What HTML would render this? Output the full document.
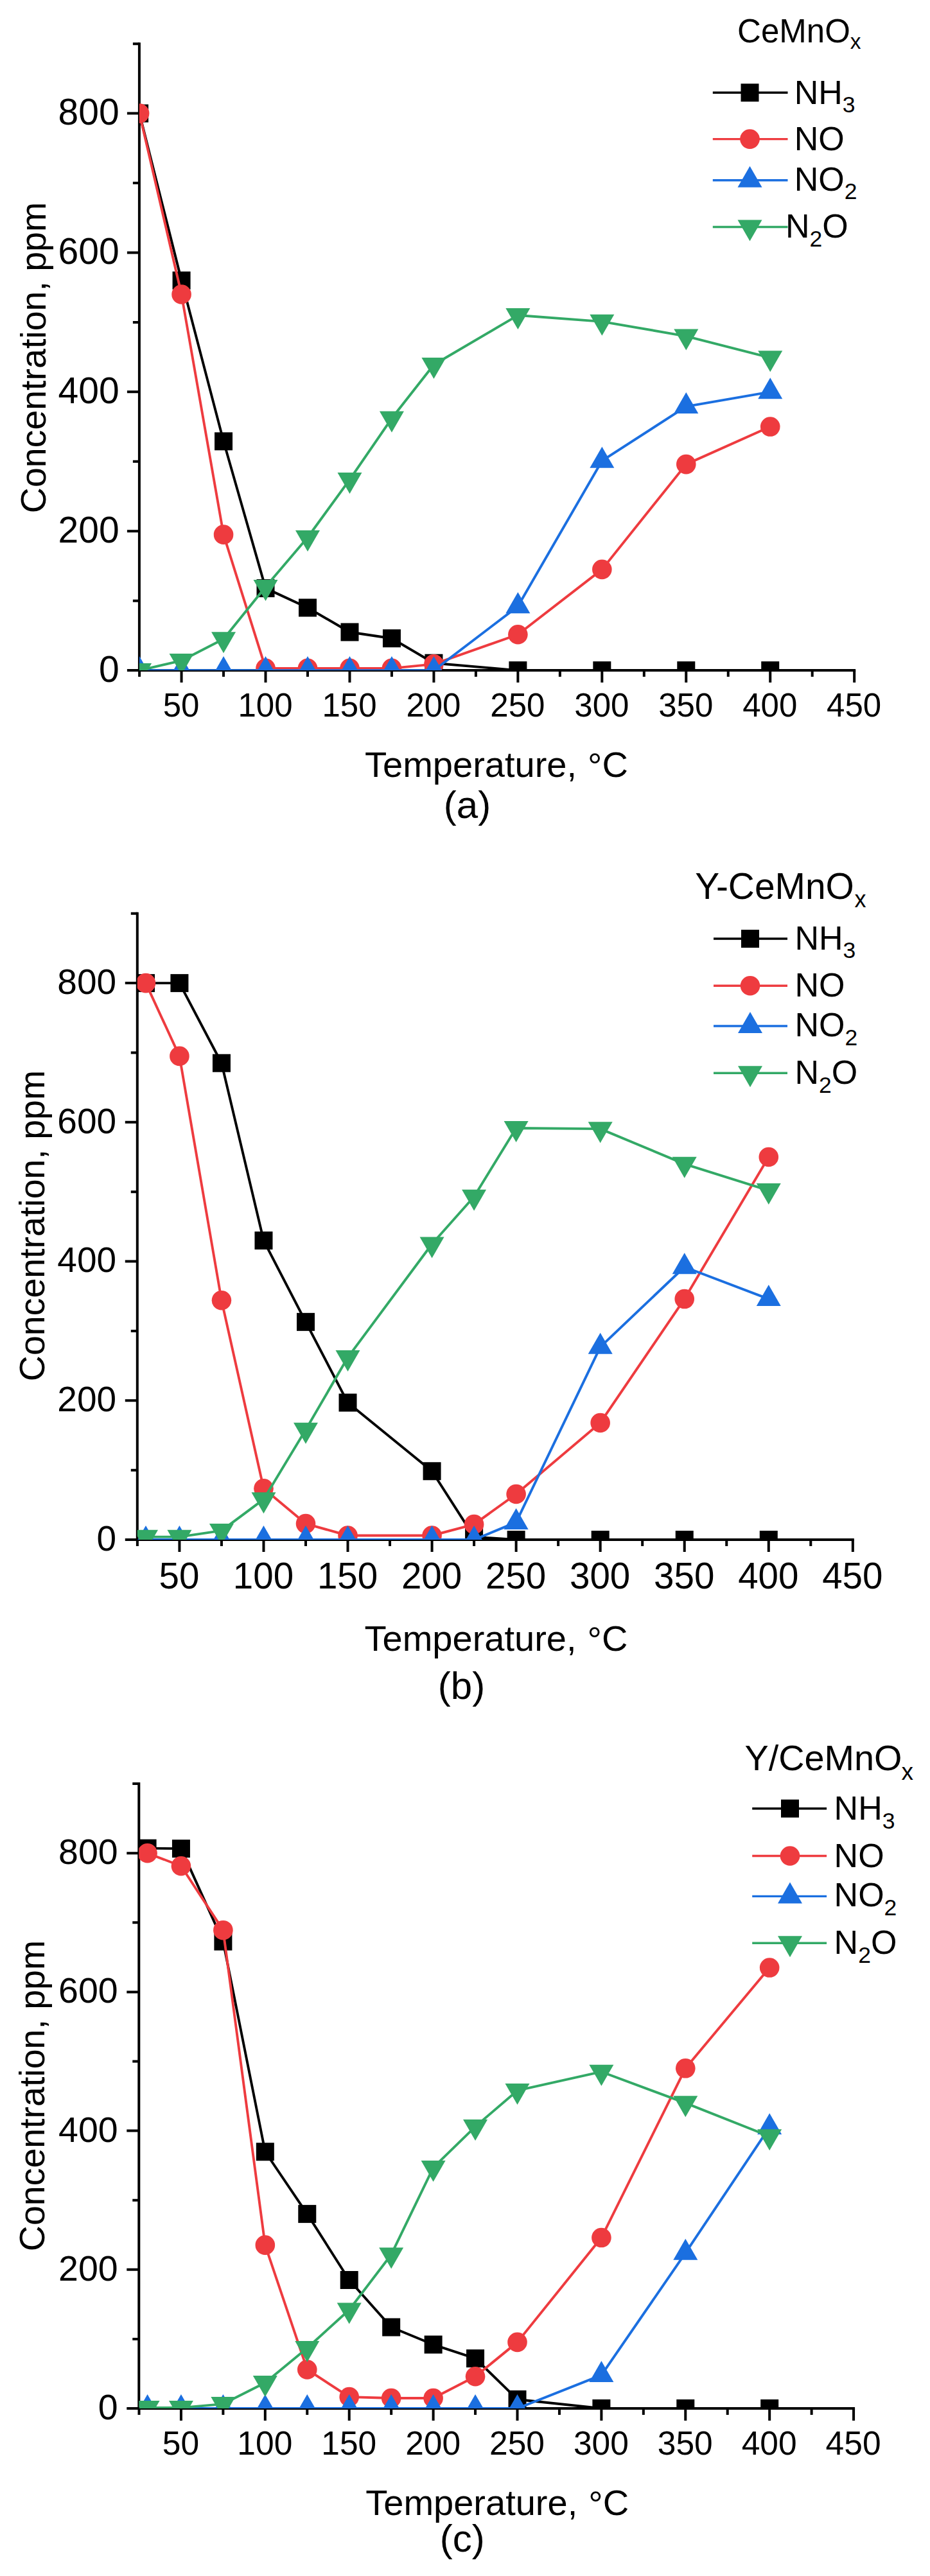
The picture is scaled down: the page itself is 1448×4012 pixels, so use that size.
<!DOCTYPE html>
<html><head><meta charset="utf-8"><title>Concentration vs Temperature</title>
<style>html,body{margin:0;padding:0;background:#fff;}svg{display:block;}</style></head><body>
<svg width="1448" height="4012" viewBox="0 0 1448 4012" font-family="'Liberation Sans', Arial, Helvetica, sans-serif">
<rect width="1448" height="4012" fill="#fff"/>
<clipPath id="clipa"><rect x="216.9" y="7" width="1153.27" height="1037.1"/></clipPath>
<path d="M216.9 68.14V1044.1H1330.17" fill="none" stroke="#000" stroke-width="4.0" stroke-linecap="square"/><path d="M216.9 1044.1H197.9M216.9 935.66H206.9M216.9 827.22H197.9M216.9 718.78H206.9M216.9 610.34H197.9M216.9 501.9H206.9M216.9 393.46H197.9M216.9 285.02H206.9M216.9 176.58H197.9M216.9 68.14H206.9M217.1 1044.1V1054.1M282.57 1044.1V1063.1M348.05 1044.1V1054.1M413.52 1044.1V1063.1M479 1044.1V1054.1M544.48 1044.1V1063.1M609.95 1044.1V1054.1M675.43 1044.1V1063.1M740.9 1044.1V1054.1M806.38 1044.1V1063.1M871.85 1044.1V1054.1M937.33 1044.1V1063.1M1002.8 1044.1V1054.1M1068.28 1044.1V1063.1M1133.75 1044.1V1054.1M1199.23 1044.1V1063.1M1264.7 1044.1V1054.1M1330.17 1044.1V1063.1" fill="none" stroke="#000" stroke-width="4.0"/>
<g clip-path="url(#clipa)"><polyline points="217.1,176.58 282.57,436.84 348.05,687.33 413.52,916.14 479,946.5 544.48,984.46 609.95,994.22 675.43,1032.71 806.38,1044.1 937.33,1044.1 1068.28,1044.1 1199.23,1044.1" fill="none" stroke="#000000" stroke-width="3.9" stroke-linejoin="round"/><rect x="203.1" y="162.58" width="28" height="28" fill="#000000"/><rect x="268.57" y="422.84" width="28" height="28" fill="#000000"/><rect x="334.05" y="673.33" width="28" height="28" fill="#000000"/><rect x="399.52" y="902.14" width="28" height="28" fill="#000000"/><rect x="465" y="932.5" width="28" height="28" fill="#000000"/><rect x="530.48" y="970.46" width="28" height="28" fill="#000000"/><rect x="595.95" y="980.22" width="28" height="28" fill="#000000"/><rect x="661.43" y="1018.71" width="28" height="28" fill="#000000"/><rect x="792.38" y="1030.1" width="28" height="28" fill="#000000"/><rect x="923.33" y="1030.1" width="28" height="28" fill="#000000"/><rect x="1054.28" y="1030.1" width="28" height="28" fill="#000000"/><rect x="1185.23" y="1030.1" width="28" height="28" fill="#000000"/><polyline points="217.1,176.58 282.57,458.52 348.05,832.64 413.52,1040.85 479,1040.85 544.48,1040.85 609.95,1040.85 675.43,1034.34 806.38,988.25 937.33,886.86 1068.28,723.12 1199.23,664.56" fill="none" stroke="#ee3b3f" stroke-width="3.9" stroke-linejoin="round"/><circle cx="217.1" cy="176.58" r="15.3" fill="#ee3b3f"/><circle cx="282.57" cy="458.52" r="15.3" fill="#ee3b3f"/><circle cx="348.05" cy="832.64" r="15.3" fill="#ee3b3f"/><circle cx="413.52" cy="1040.85" r="15.3" fill="#ee3b3f"/><circle cx="479" cy="1040.85" r="15.3" fill="#ee3b3f"/><circle cx="544.48" cy="1040.85" r="15.3" fill="#ee3b3f"/><circle cx="609.95" cy="1040.85" r="15.3" fill="#ee3b3f"/><circle cx="675.43" cy="1034.34" r="15.3" fill="#ee3b3f"/><circle cx="806.38" cy="988.25" r="15.3" fill="#ee3b3f"/><circle cx="937.33" cy="886.86" r="15.3" fill="#ee3b3f"/><circle cx="1068.28" cy="723.12" r="15.3" fill="#ee3b3f"/><circle cx="1199.23" cy="664.56" r="15.3" fill="#ee3b3f"/><polyline points="217.1,1044.1 282.57,1044.1 348.05,1044.1 413.52,1044.1 479,1044.1 544.48,1044.1 609.95,1044.1 675.43,1044.1 806.38,944.34 937.33,717.7 1068.28,633.11 1199.23,610.34" fill="none" stroke="#1b6fe0" stroke-width="3.9" stroke-linejoin="round"/><path d="M217.1 1022.1L236.1 1055.1L198.1 1055.1Z" fill="#1b6fe0"/><path d="M282.57 1022.1L301.57 1055.1L263.57 1055.1Z" fill="#1b6fe0"/><path d="M348.05 1022.1L367.05 1055.1L329.05 1055.1Z" fill="#1b6fe0"/><path d="M413.52 1022.1L432.52 1055.1L394.52 1055.1Z" fill="#1b6fe0"/><path d="M479 1022.1L498 1055.1L460 1055.1Z" fill="#1b6fe0"/><path d="M544.48 1022.1L563.48 1055.1L525.48 1055.1Z" fill="#1b6fe0"/><path d="M609.95 1022.1L628.95 1055.1L590.95 1055.1Z" fill="#1b6fe0"/><path d="M675.43 1022.1L694.43 1055.1L656.43 1055.1Z" fill="#1b6fe0"/><path d="M806.38 922.34L825.38 955.34L787.38 955.34Z" fill="#1b6fe0"/><path d="M937.33 695.7L956.33 728.7L918.33 728.7Z" fill="#1b6fe0"/><path d="M1068.28 611.11L1087.28 644.11L1049.28 644.11Z" fill="#1b6fe0"/><path d="M1199.23 588.34L1218.23 621.34L1180.23 621.34Z" fill="#1b6fe0"/><polyline points="217.1,1044.1 282.57,1028.92 348.05,995.3 413.52,913.97 479,836.98 544.48,746.97 609.95,651.55 675.43,568.05 806.38,491.06 937.33,500.82 1068.28,523.59 1199.23,557.2" fill="none" stroke="#33a966" stroke-width="3.9" stroke-linejoin="round"/><path d="M198.1 1033.1L236.1 1033.1L217.1 1066.1Z" fill="#33a966"/><path d="M263.57 1017.92L301.57 1017.92L282.57 1050.92Z" fill="#33a966"/><path d="M329.05 984.3L367.05 984.3L348.05 1017.3Z" fill="#33a966"/><path d="M394.52 902.97L432.52 902.97L413.52 935.97Z" fill="#33a966"/><path d="M460 825.98L498 825.98L479 858.98Z" fill="#33a966"/><path d="M525.48 735.97L563.48 735.97L544.48 768.97Z" fill="#33a966"/><path d="M590.95 640.55L628.95 640.55L609.95 673.55Z" fill="#33a966"/><path d="M656.43 557.05L694.43 557.05L675.43 590.05Z" fill="#33a966"/><path d="M787.38 480.06L825.38 480.06L806.38 513.06Z" fill="#33a966"/><path d="M918.33 489.82L956.33 489.82L937.33 522.82Z" fill="#33a966"/><path d="M1049.28 512.59L1087.28 512.59L1068.28 545.59Z" fill="#33a966"/><path d="M1180.23 546.2L1218.23 546.2L1199.23 579.2Z" fill="#33a966"/></g>
<text x="185.7" y="1061.5" font-size="57" text-anchor="end">0</text><text x="185.7" y="844.62" font-size="57" text-anchor="end">200</text><text x="185.7" y="627.74" font-size="57" text-anchor="end">400</text><text x="185.7" y="410.86" font-size="57" text-anchor="end">600</text><text x="185.7" y="193.98" font-size="57" text-anchor="end">800</text><text x="282.07" y="1115.6" font-size="51" text-anchor="middle">50</text><text x="413.02" y="1115.6" font-size="51" text-anchor="middle">100</text><text x="543.98" y="1115.6" font-size="51" text-anchor="middle">150</text><text x="674.93" y="1115.6" font-size="51" text-anchor="middle">200</text><text x="805.88" y="1115.6" font-size="51" text-anchor="middle">250</text><text x="936.83" y="1115.6" font-size="51" text-anchor="middle">300</text><text x="1067.78" y="1115.6" font-size="51" text-anchor="middle">350</text><text x="1198.73" y="1115.6" font-size="51" text-anchor="middle">400</text><text x="1329.67" y="1115.6" font-size="51" text-anchor="middle">450</text><text transform="translate(70.5 557) rotate(-90)" font-size="55.5" text-anchor="middle">Concentration, ppm</text><text x="773" y="1210" font-size="56" text-anchor="middle">Temperature, <tspan dx="1.5" dy="2">°</tspan><tspan dy="-2">C</tspan></text><text x="727.5" y="1273.6" font-size="60" text-anchor="middle">(a)</text><text x="1148.1" y="65.5" font-size="51">CeMnO<tspan x="1323.7" y="76.2" font-size="33.5">x</tspan></text><line x1="1109.8" y1="144.3" x2="1226.5" y2="144.3" stroke="#000000" stroke-width="3.4"/><rect x="1153.5" y="130.3" width="28" height="28" fill="#000000"/><text x="1236.7" y="161.6" font-size="52">NH<tspan font-size="35.5" dy="13.6">3</tspan></text><line x1="1109.8" y1="216.6" x2="1226.5" y2="216.6" stroke="#ee3b3f" stroke-width="3.4"/><circle cx="1167.5" cy="216.6" r="15.3" fill="#ee3b3f"/><text x="1236.7" y="233.6" font-size="52">NO</text><line x1="1109.8" y1="280.8" x2="1226.5" y2="280.8" stroke="#1b6fe0" stroke-width="3.4"/><path d="M1167.5 258.8L1186.5 291.8L1148.5 291.8Z" fill="#1b6fe0"/><text x="1236.7" y="296.8" font-size="52">NO<tspan font-size="35.5" dy="13.6">2</tspan></text><line x1="1109.8" y1="353.5" x2="1226.5" y2="353.5" stroke="#33a966" stroke-width="3.4"/><path d="M1148.5 342.5L1186.5 342.5L1167.5 375.5Z" fill="#33a966"/><text x="1223" y="370.3" font-size="52">N<tspan font-size="35.5" dy="13.6">2</tspan><tspan dy="-13.6">O</tspan></text>
<clipPath id="clipb"><rect x="213.8" y="1361.3" width="1154.03" height="1036.7"/></clipPath>
<path d="M213.8 1422.76V2398H1327.83" fill="none" stroke="#000" stroke-width="4.0" stroke-linecap="square"/><path d="M213.8 2398H194.8M213.8 2289.64H203.8M213.8 2181.28H194.8M213.8 2072.92H203.8M213.8 1964.56H194.8M213.8 1856.2H203.8M213.8 1747.84H194.8M213.8 1639.48H203.8M213.8 1531.12H194.8M213.8 1422.76H203.8M213.9 2398V2408M279.43 2398V2417M344.95 2398V2408M410.48 2398V2417M476 2398V2408M541.52 2398V2417M607.05 2398V2408M672.58 2398V2417M738.1 2398V2408M803.62 2398V2417M869.15 2398V2408M934.67 2398V2417M1000.2 2398V2408M1065.73 2398V2417M1131.25 2398V2408M1196.78 2398V2417M1262.3 2398V2408M1327.83 2398V2417" fill="none" stroke="#000" stroke-width="4.0"/>
<g clip-path="url(#clipb)"><polyline points="227,1531.12 279.43,1531.12 344.95,1655.73 410.48,1932.05 476,2058.83 541.52,2184.53 672.58,2291.27 738.1,2393.67 803.62,2398 934.67,2398 1065.73,2398 1196.78,2398" fill="none" stroke="#000000" stroke-width="3.9" stroke-linejoin="round"/><rect x="213" y="1517.12" width="28" height="28" fill="#000000"/><rect x="265.43" y="1517.12" width="28" height="28" fill="#000000"/><rect x="330.95" y="1641.73" width="28" height="28" fill="#000000"/><rect x="396.48" y="1918.05" width="28" height="28" fill="#000000"/><rect x="462" y="2044.83" width="28" height="28" fill="#000000"/><rect x="527.52" y="2170.53" width="28" height="28" fill="#000000"/><rect x="658.58" y="2277.27" width="28" height="28" fill="#000000"/><rect x="724.1" y="2379.67" width="28" height="28" fill="#000000"/><rect x="789.62" y="2384" width="28" height="28" fill="#000000"/><rect x="920.67" y="2384" width="28" height="28" fill="#000000"/><rect x="1051.73" y="2384" width="28" height="28" fill="#000000"/><rect x="1182.78" y="2384" width="28" height="28" fill="#000000"/><polyline points="227,1531.12 279.43,1644.9 344.95,2025.24 410.48,2318.36 476,2373.08 541.52,2391.5 672.58,2391.5 738.1,2374.16 803.62,2327.02 934.67,2215.96 1065.73,2023.07 1196.78,1802.02" fill="none" stroke="#ee3b3f" stroke-width="3.9" stroke-linejoin="round"/><circle cx="227" cy="1531.12" r="15.3" fill="#ee3b3f"/><circle cx="279.43" cy="1644.9" r="15.3" fill="#ee3b3f"/><circle cx="344.95" cy="2025.24" r="15.3" fill="#ee3b3f"/><circle cx="410.48" cy="2318.36" r="15.3" fill="#ee3b3f"/><circle cx="476" cy="2373.08" r="15.3" fill="#ee3b3f"/><circle cx="541.52" cy="2391.5" r="15.3" fill="#ee3b3f"/><circle cx="672.58" cy="2391.5" r="15.3" fill="#ee3b3f"/><circle cx="738.1" cy="2374.16" r="15.3" fill="#ee3b3f"/><circle cx="803.62" cy="2327.02" r="15.3" fill="#ee3b3f"/><circle cx="934.67" cy="2215.96" r="15.3" fill="#ee3b3f"/><circle cx="1065.73" cy="2023.07" r="15.3" fill="#ee3b3f"/><circle cx="1196.78" cy="1802.02" r="15.3" fill="#ee3b3f"/><polyline points="227,2398 279.43,2398 344.95,2398 410.48,2398 476,2398 541.52,2398 672.58,2398 738.1,2398 803.62,2370.91 934.67,2097.84 1065.73,1973.23 1196.78,2023.07" fill="none" stroke="#1b6fe0" stroke-width="3.9" stroke-linejoin="round"/><path d="M227 2376L246 2409L208 2409Z" fill="#1b6fe0"/><path d="M279.43 2376L298.43 2409L260.43 2409Z" fill="#1b6fe0"/><path d="M344.95 2376L363.95 2409L325.95 2409Z" fill="#1b6fe0"/><path d="M410.48 2376L429.48 2409L391.48 2409Z" fill="#1b6fe0"/><path d="M476 2376L495 2409L457 2409Z" fill="#1b6fe0"/><path d="M541.52 2376L560.52 2409L522.52 2409Z" fill="#1b6fe0"/><path d="M672.58 2376L691.58 2409L653.58 2409Z" fill="#1b6fe0"/><path d="M738.1 2376L757.1 2409L719.1 2409Z" fill="#1b6fe0"/><path d="M803.62 2348.91L822.62 2381.91L784.62 2381.91Z" fill="#1b6fe0"/><path d="M934.67 2075.84L953.67 2108.84L915.67 2108.84Z" fill="#1b6fe0"/><path d="M1065.73 1951.23L1084.73 1984.23L1046.73 1984.23Z" fill="#1b6fe0"/><path d="M1196.78 2001.07L1215.78 2034.07L1177.78 2034.07Z" fill="#1b6fe0"/><polyline points="227,2393.67 279.43,2393.67 344.95,2383.91 410.48,2335.15 476,2226.79 541.52,2114.1 672.58,1937.47 738.1,1863.79 803.62,1756.94 934.67,1758.13 1065.73,1812.86 1196.78,1854.03" fill="none" stroke="#33a966" stroke-width="3.9" stroke-linejoin="round"/><path d="M208 2382.67L246 2382.67L227 2415.67Z" fill="#33a966"/><path d="M260.43 2382.67L298.43 2382.67L279.43 2415.67Z" fill="#33a966"/><path d="M325.95 2372.91L363.95 2372.91L344.95 2405.91Z" fill="#33a966"/><path d="M391.48 2324.15L429.48 2324.15L410.48 2357.15Z" fill="#33a966"/><path d="M457 2215.79L495 2215.79L476 2248.79Z" fill="#33a966"/><path d="M522.52 2103.1L560.52 2103.1L541.52 2136.1Z" fill="#33a966"/><path d="M653.58 1926.47L691.58 1926.47L672.58 1959.47Z" fill="#33a966"/><path d="M719.1 1852.79L757.1 1852.79L738.1 1885.79Z" fill="#33a966"/><path d="M784.62 1745.94L822.62 1745.94L803.62 1778.94Z" fill="#33a966"/><path d="M915.67 1747.13L953.67 1747.13L934.67 1780.13Z" fill="#33a966"/><path d="M1046.73 1801.86L1084.73 1801.86L1065.73 1834.86Z" fill="#33a966"/><path d="M1177.78 1843.03L1215.78 1843.03L1196.78 1876.03Z" fill="#33a966"/></g>
<text x="181.1" y="2414.8" font-size="55" text-anchor="end">0</text><text x="181.1" y="2198.08" font-size="55" text-anchor="end">200</text><text x="181.1" y="1981.36" font-size="55" text-anchor="end">400</text><text x="181.1" y="1764.64" font-size="55" text-anchor="end">600</text><text x="181.1" y="1547.92" font-size="55" text-anchor="end">800</text><text x="278.93" y="2473.8" font-size="56.5" text-anchor="middle">50</text><text x="409.98" y="2473.8" font-size="56.5" text-anchor="middle">100</text><text x="541.02" y="2473.8" font-size="56.5" text-anchor="middle">150</text><text x="672.08" y="2473.8" font-size="56.5" text-anchor="middle">200</text><text x="803.12" y="2473.8" font-size="56.5" text-anchor="middle">250</text><text x="934.17" y="2473.8" font-size="56.5" text-anchor="middle">300</text><text x="1065.23" y="2473.8" font-size="56.5" text-anchor="middle">350</text><text x="1196.28" y="2473.8" font-size="56.5" text-anchor="middle">400</text><text x="1327.33" y="2473.8" font-size="56.5" text-anchor="middle">450</text><text transform="translate(69.1 1909) rotate(-90)" font-size="55.5" text-anchor="middle">Concentration, ppm</text><text x="772.5" y="2570.8" font-size="56" text-anchor="middle">Temperature, <tspan dx="1.5" dy="2">°</tspan><tspan dy="-2">C</tspan></text><text x="718.5" y="2646.4" font-size="60" text-anchor="middle">(b)</text><text x="1082.2" y="1399.5" font-size="56.9">Y-CeMnO<tspan x="1330.4" y="1412.9" font-size="36">x</tspan></text><line x1="1111" y1="1462" x2="1226" y2="1462" stroke="#000000" stroke-width="3.4"/><rect x="1154" y="1448" width="28" height="28" fill="#000000"/><text x="1237.5" y="1478.8" font-size="52">NH<tspan font-size="35.5" dy="13.6">3</tspan></text><line x1="1111" y1="1535.3" x2="1226" y2="1535.3" stroke="#ee3b3f" stroke-width="3.4"/><circle cx="1168" cy="1535.3" r="15.3" fill="#ee3b3f"/><text x="1237.5" y="1552.3" font-size="52">NO</text><line x1="1111" y1="1598" x2="1226" y2="1598" stroke="#1b6fe0" stroke-width="3.4"/><path d="M1168 1576L1187 1609L1149 1609Z" fill="#1b6fe0"/><text x="1237.5" y="1614" font-size="52">NO<tspan font-size="35.5" dy="13.6">2</tspan></text><line x1="1111" y1="1671.2" x2="1226" y2="1671.2" stroke="#33a966" stroke-width="3.4"/><path d="M1149 1660.2L1187 1660.2L1168 1693.2Z" fill="#33a966"/><text x="1237.5" y="1688" font-size="52">N<tspan font-size="35.5" dy="13.6">2</tspan><tspan dy="-13.6">O</tspan></text>
<clipPath id="clipc"><rect x="216.3" y="2718" width="1152.77" height="1033"/></clipPath>
<path d="M216.3 2778.1V3751H1329.07" fill="none" stroke="#000" stroke-width="4.0" stroke-linecap="square"/><path d="M216.3 3751H197.3M216.3 3642.9H206.3M216.3 3534.8H197.3M216.3 3426.7H206.3M216.3 3318.6H197.3M216.3 3210.5H206.3M216.3 3102.4H197.3M216.3 2994.3H206.3M216.3 2886.2H197.3M216.3 2778.1H206.3M216.5 3751V3761M281.94 3751V3770M347.39 3751V3761M412.83 3751V3770M478.28 3751V3761M543.72 3751V3770M609.17 3751V3761M674.62 3751V3770M740.06 3751V3761M805.5 3751V3770M870.95 3751V3761M936.39 3751V3770M1001.84 3751V3761M1067.28 3751V3770M1132.73 3751V3761M1198.17 3751V3770M1263.62 3751V3761M1329.07 3751V3770" fill="none" stroke="#000" stroke-width="4.0"/>
<g clip-path="url(#clipc)"><polyline points="229.59,2878.63 281.94,2879.17 347.39,3023.7 412.83,3351.25 478.28,3448.1 543.72,3551.01 609.17,3624.52 674.62,3651.55 740.06,3673.17 805.5,3736.95 936.39,3751 1067.28,3751 1198.17,3751" fill="none" stroke="#000000" stroke-width="3.9" stroke-linejoin="round"/><rect x="215.59" y="2864.63" width="28" height="28" fill="#000000"/><rect x="267.94" y="2865.17" width="28" height="28" fill="#000000"/><rect x="333.39" y="3009.7" width="28" height="28" fill="#000000"/><rect x="398.83" y="3337.25" width="28" height="28" fill="#000000"/><rect x="464.28" y="3434.1" width="28" height="28" fill="#000000"/><rect x="529.72" y="3537.01" width="28" height="28" fill="#000000"/><rect x="595.17" y="3610.52" width="28" height="28" fill="#000000"/><rect x="660.62" y="3637.55" width="28" height="28" fill="#000000"/><rect x="726.06" y="3659.17" width="28" height="28" fill="#000000"/><rect x="791.5" y="3722.95" width="28" height="28" fill="#000000"/><rect x="922.39" y="3737" width="28" height="28" fill="#000000"/><rect x="1053.28" y="3737" width="28" height="28" fill="#000000"/><rect x="1184.17" y="3737" width="28" height="28" fill="#000000"/><polyline points="229.59,2886.2 281.94,2906.2 347.39,3006.19 412.83,3496.64 478.28,3690.46 543.72,3733.16 609.17,3735 674.62,3735 740.06,3701.27 805.5,3647.87 936.39,3485.07 1067.28,3221.31 1198.17,3064.57" fill="none" stroke="#ee3b3f" stroke-width="3.9" stroke-linejoin="round"/><circle cx="229.59" cy="2886.2" r="15.3" fill="#ee3b3f"/><circle cx="281.94" cy="2906.2" r="15.3" fill="#ee3b3f"/><circle cx="347.39" cy="3006.19" r="15.3" fill="#ee3b3f"/><circle cx="412.83" cy="3496.64" r="15.3" fill="#ee3b3f"/><circle cx="478.28" cy="3690.46" r="15.3" fill="#ee3b3f"/><circle cx="543.72" cy="3733.16" r="15.3" fill="#ee3b3f"/><circle cx="609.17" cy="3735" r="15.3" fill="#ee3b3f"/><circle cx="674.62" cy="3735" r="15.3" fill="#ee3b3f"/><circle cx="740.06" cy="3701.27" r="15.3" fill="#ee3b3f"/><circle cx="805.5" cy="3647.87" r="15.3" fill="#ee3b3f"/><circle cx="936.39" cy="3485.07" r="15.3" fill="#ee3b3f"/><circle cx="1067.28" cy="3221.31" r="15.3" fill="#ee3b3f"/><circle cx="1198.17" cy="3064.57" r="15.3" fill="#ee3b3f"/><polyline points="229.59,3751 281.94,3751 347.39,3751 412.83,3751 478.28,3751 543.72,3751 609.17,3751 674.62,3751 740.06,3751 805.5,3751 936.39,3699.11 1067.28,3508.86 1198.17,3313.2" fill="none" stroke="#1b6fe0" stroke-width="3.9" stroke-linejoin="round"/><path d="M229.59 3729L248.59 3762L210.59 3762Z" fill="#1b6fe0"/><path d="M281.94 3729L300.94 3762L262.94 3762Z" fill="#1b6fe0"/><path d="M347.39 3729L366.39 3762L328.39 3762Z" fill="#1b6fe0"/><path d="M412.83 3729L431.83 3762L393.83 3762Z" fill="#1b6fe0"/><path d="M478.28 3729L497.28 3762L459.28 3762Z" fill="#1b6fe0"/><path d="M543.72 3729L562.72 3762L524.72 3762Z" fill="#1b6fe0"/><path d="M609.17 3729L628.17 3762L590.17 3762Z" fill="#1b6fe0"/><path d="M674.62 3729L693.62 3762L655.62 3762Z" fill="#1b6fe0"/><path d="M740.06 3729L759.06 3762L721.06 3762Z" fill="#1b6fe0"/><path d="M805.5 3729L824.5 3762L786.5 3762Z" fill="#1b6fe0"/><path d="M936.39 3677.11L955.39 3710.11L917.39 3710.11Z" fill="#1b6fe0"/><path d="M1067.28 3486.86L1086.28 3519.86L1048.28 3519.86Z" fill="#1b6fe0"/><path d="M1198.17 3291.2L1217.17 3324.2L1179.17 3324.2Z" fill="#1b6fe0"/><polyline points="229.59,3749.92 281.94,3749.92 347.39,3744.08 412.83,3711.11 478.28,3656.95 543.72,3597.5 609.17,3511.45 674.62,3375.89 740.06,3312.11 805.5,3255.9 936.39,3226.72 1067.28,3275.36 1198.17,3327.25" fill="none" stroke="#33a966" stroke-width="3.9" stroke-linejoin="round"/><path d="M210.59 3738.92L248.59 3738.92L229.59 3771.92Z" fill="#33a966"/><path d="M262.94 3738.92L300.94 3738.92L281.94 3771.92Z" fill="#33a966"/><path d="M328.39 3733.08L366.39 3733.08L347.39 3766.08Z" fill="#33a966"/><path d="M393.83 3700.11L431.83 3700.11L412.83 3733.11Z" fill="#33a966"/><path d="M459.28 3645.95L497.28 3645.95L478.28 3678.95Z" fill="#33a966"/><path d="M524.72 3586.5L562.72 3586.5L543.72 3619.5Z" fill="#33a966"/><path d="M590.17 3500.45L628.17 3500.45L609.17 3533.45Z" fill="#33a966"/><path d="M655.62 3364.89L693.62 3364.89L674.62 3397.89Z" fill="#33a966"/><path d="M721.06 3301.11L759.06 3301.11L740.06 3334.11Z" fill="#33a966"/><path d="M786.5 3244.9L824.5 3244.9L805.5 3277.9Z" fill="#33a966"/><path d="M917.39 3215.72L955.39 3215.72L936.39 3248.72Z" fill="#33a966"/><path d="M1048.28 3264.36L1086.28 3264.36L1067.28 3297.36Z" fill="#33a966"/><path d="M1179.17 3316.25L1217.17 3316.25L1198.17 3349.25Z" fill="#33a966"/></g>
<text x="183.7" y="3768" font-size="55.5" text-anchor="end">0</text><text x="183.7" y="3551.8" font-size="55.5" text-anchor="end">200</text><text x="183.7" y="3335.6" font-size="55.5" text-anchor="end">400</text><text x="183.7" y="3119.4" font-size="55.5" text-anchor="end">600</text><text x="183.7" y="2903.2" font-size="55.5" text-anchor="end">800</text><text x="281.44" y="3823" font-size="51.5" text-anchor="middle">50</text><text x="412.33" y="3823" font-size="51.5" text-anchor="middle">100</text><text x="543.22" y="3823" font-size="51.5" text-anchor="middle">150</text><text x="674.12" y="3823" font-size="51.5" text-anchor="middle">200</text><text x="805" y="3823" font-size="51.5" text-anchor="middle">250</text><text x="935.89" y="3823" font-size="51.5" text-anchor="middle">300</text><text x="1066.78" y="3823" font-size="51.5" text-anchor="middle">350</text><text x="1197.67" y="3823" font-size="51.5" text-anchor="middle">400</text><text x="1328.57" y="3823" font-size="51.5" text-anchor="middle">450</text><text transform="translate(69.1 3264) rotate(-90)" font-size="55.5" text-anchor="middle">Concentration, ppm</text><text x="774.2" y="3917.3" font-size="56" text-anchor="middle">Temperature, <tspan dx="1.5" dy="2">°</tspan><tspan dy="-2">C</tspan></text><text x="719.8" y="3974.3" font-size="60" text-anchor="middle">(c)</text><text x="1159.5" y="2757" font-size="55.8">Y/CeMnO<tspan x="1403.6" y="2772.4" font-size="37">x</tspan></text><line x1="1171.2" y1="2816.7" x2="1287.1" y2="2816.7" stroke="#000000" stroke-width="3.4"/><rect x="1216" y="2802.7" width="28" height="28" fill="#000000"/><text x="1298.6" y="2834" font-size="52">NH<tspan font-size="35.5" dy="13.6">3</tspan></text><line x1="1171.2" y1="2890.5" x2="1287.1" y2="2890.5" stroke="#ee3b3f" stroke-width="3.4"/><circle cx="1230" cy="2890.5" r="15.3" fill="#ee3b3f"/><text x="1298.6" y="2907.5" font-size="52">NO</text><line x1="1171.2" y1="2953.4" x2="1287.1" y2="2953.4" stroke="#1b6fe0" stroke-width="3.4"/><path d="M1230 2931.4L1249 2964.4L1211 2964.4Z" fill="#1b6fe0"/><text x="1298.6" y="2969.4" font-size="52">NO<tspan font-size="35.5" dy="13.6">2</tspan></text><line x1="1171.2" y1="3026.2" x2="1287.1" y2="3026.2" stroke="#33a966" stroke-width="3.4"/><path d="M1211 3015.2L1249 3015.2L1230 3048.2Z" fill="#33a966"/><text x="1298.6" y="3043" font-size="52">N<tspan font-size="35.5" dy="13.6">2</tspan><tspan dy="-13.6">O</tspan></text>
</svg></body></html>
